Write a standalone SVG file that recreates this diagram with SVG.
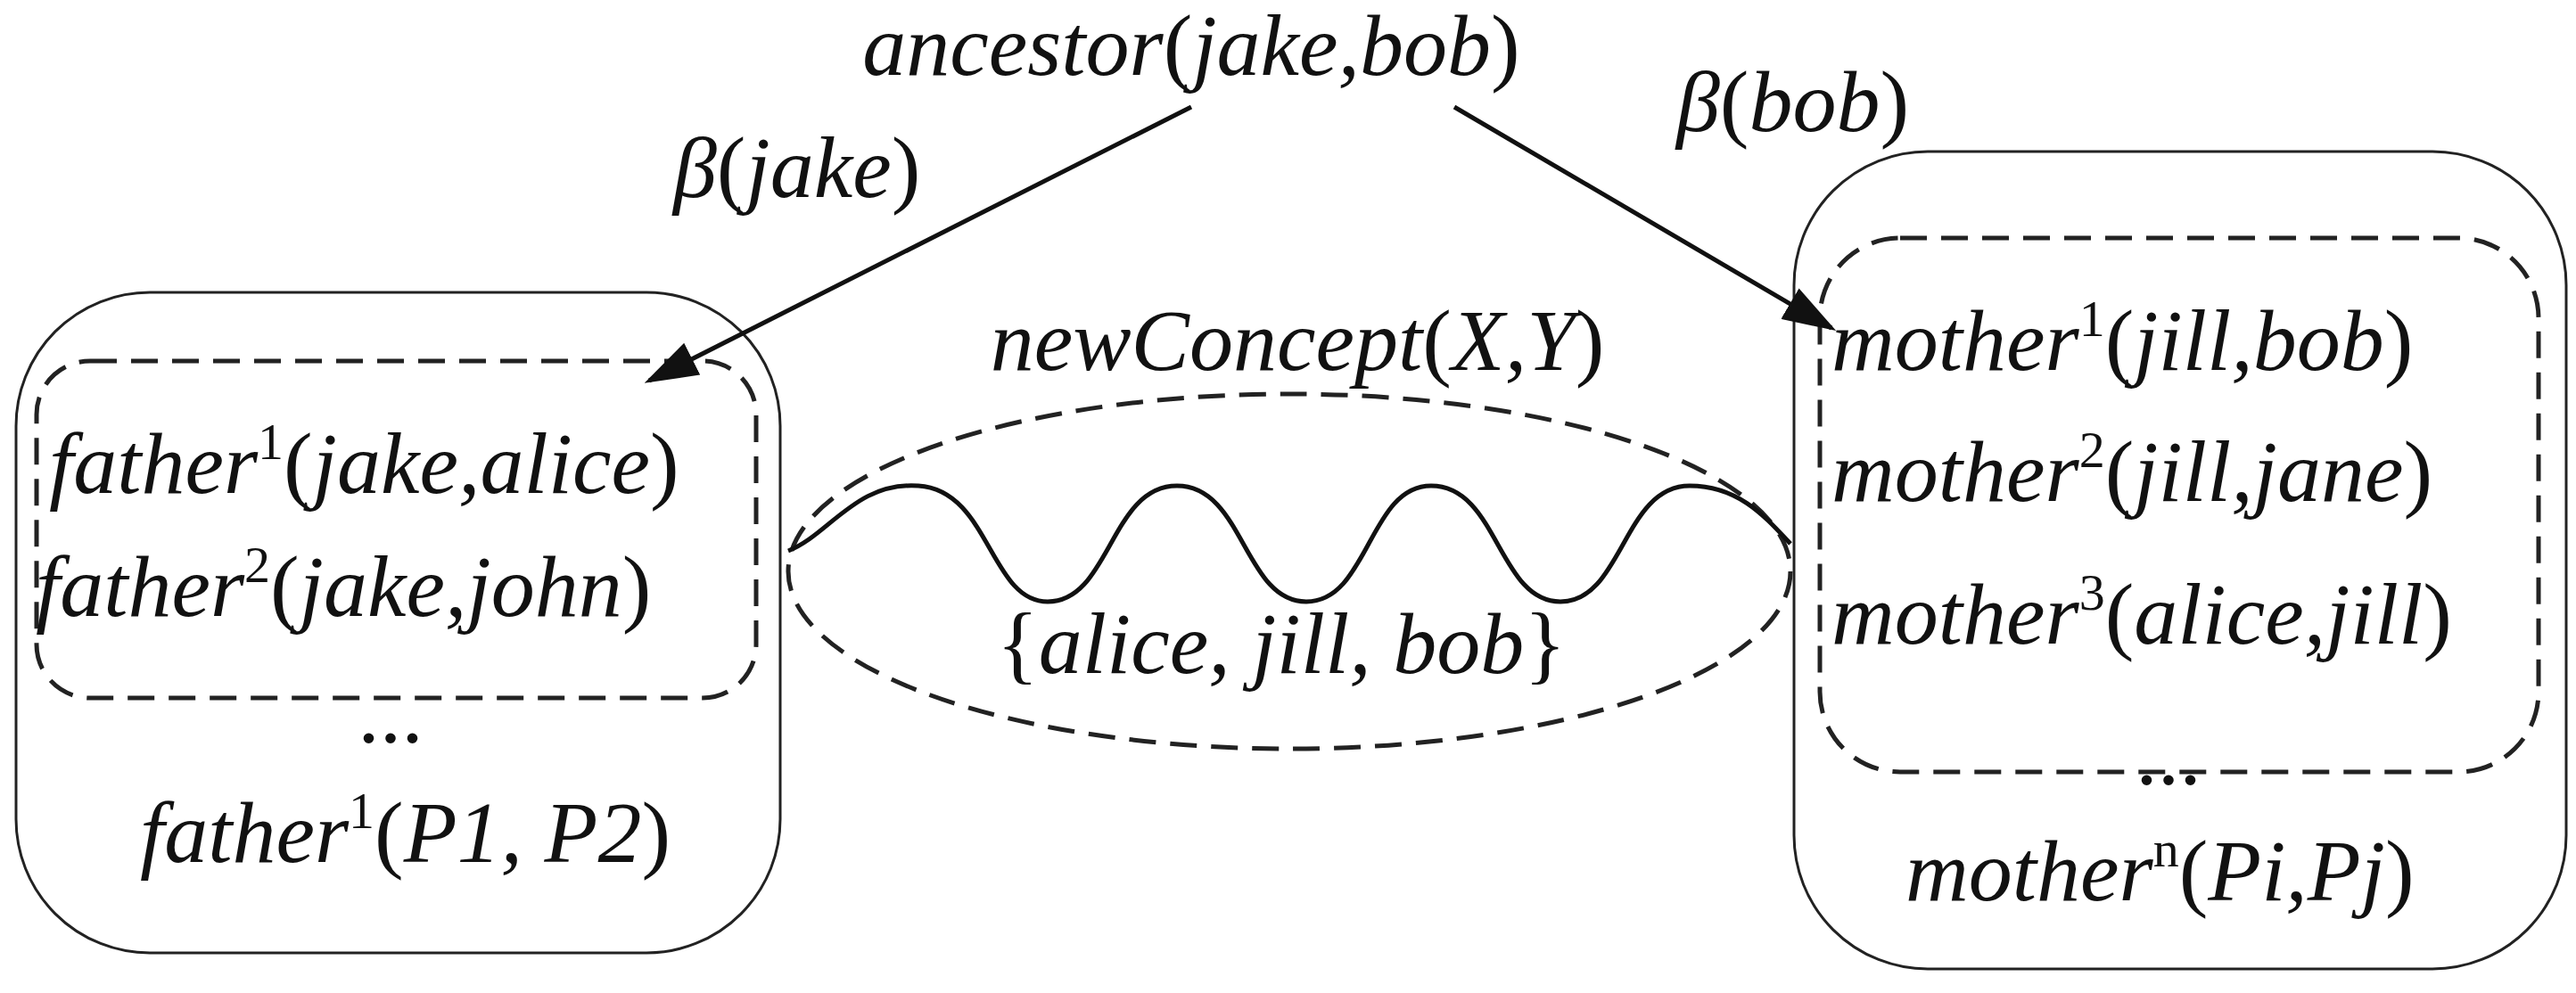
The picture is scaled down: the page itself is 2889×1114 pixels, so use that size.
<svg xmlns="http://www.w3.org/2000/svg" width="2889" height="1114" viewBox="0 0 2889 1114">
<style>
text{font-family:"Liberation Serif","Times New Roman",serif;font-size:98px;fill:#111}
.i{font-style:italic}
.s{font-size:58px;font-style:normal}
.box{fill:none;stroke:#222;stroke-width:3}
.dash{fill:none;stroke:#222;stroke-width:5;stroke-dasharray:30 16}
.con{fill:none;stroke:#111;stroke-width:5}
</style>
<defs>
<marker id="a" viewBox="0 0 10 10" refX="9" refY="5" markerWidth="60" markerHeight="40" markerUnits="userSpaceOnUse" orient="auto" preserveAspectRatio="none"><path d="M0,0 L10,5 L0,10z" fill="#111"/></marker></defs>
<g id="left">
<rect class="box" x="18" y="328" width="857" height="741" rx="150"/>
<rect class="dash" x="41" y="405" width="807" height="378" rx="60"/>
<text x="55" y="553"><tspan class="i">father</tspan><tspan class="s" dy="-38">1</tspan><tspan dy="38">(</tspan><tspan class="i">jake,alice</tspan>)</text>
<text x="40" y="691"><tspan class="i">father</tspan><tspan class="s" dy="-38">2</tspan><tspan dy="38">(</tspan><tspan class="i">jake,john</tspan>)</text>
<text x="438" y="833" text-anchor="middle">...</text>
<text x="157" y="967"><tspan class="i">father</tspan><tspan class="s" dy="-38">1</tspan><tspan dy="38">(</tspan><tspan class="i">P1, P2</tspan>)</text>
</g>
<g id="right">
<rect class="box" x="2012" y="170" width="866" height="917" rx="150"/>
<rect class="dash" x="2041" y="267" width="806" height="599" rx="90"/>
<text x="2054" y="415"><tspan class="i">mother</tspan><tspan class="s" dy="-38">1</tspan><tspan dy="38">(</tspan><tspan class="i">jill,bob</tspan>)</text>
<text x="2054" y="562"><tspan class="i">mother</tspan><tspan class="s" dy="-38">2</tspan><tspan dy="38">(</tspan><tspan class="i">jill,jane</tspan>)</text>
<text x="2054" y="722"><tspan class="i">mother</tspan><tspan class="s" dy="-38">3</tspan><tspan dy="38">(</tspan><tspan class="i">alice,jill</tspan>)</text>
<text x="2432" y="880" text-anchor="middle">...</text>
<text x="2137" y="1010"><tspan class="i">mother</tspan><tspan class="s" font-style="italic" dy="-38">n</tspan><tspan dy="38">(</tspan><tspan class="i">Pi,Pj</tspan>)</text>
</g>
<g id="concept">
<ellipse class="dash" cx="1446" cy="641" rx="562" ry="199"/>
<text class="i" x="1455" y="415" text-anchor="middle">newConcept<tspan font-style="normal">(</tspan>X,Y<tspan font-style="normal">)</tspan></text>
<text x="1437" y="755" text-anchor="middle">{<tspan class="i">alice, jill, bob</tspan>}</text>
</g>
<g id="top">
<text class="i" x="1336" y="84" text-anchor="middle">ancestor<tspan font-style="normal">(</tspan>jake,bob<tspan font-style="normal">)</tspan></text>
</g>
<g id="connectors">
<path class="con" marker-end="url(#a)" d="M1336,120 L728,427"/>
<path class="con" marker-end="url(#a)" d="M1631,120 L2054,368"/>
<path class="con" d="M884,618 C930,600 960,540 1030,545 C1110,550 1110,675 1175,675 C1245,675 1245,545 1320,545 C1395,545 1395,675 1465,675 C1535,675 1535,545 1605,545 C1680,545 1680,675 1750,675 C1820,675 1820,545 1895,545 C1950,545 1980,580 2008,610"/>
<text class="i" x="755" y="221">β<tspan font-style="normal">(</tspan>jake<tspan font-style="normal">)</tspan></text>
<text class="i" x="1880" y="147">β<tspan font-style="normal">(</tspan>bob<tspan font-style="normal">)</tspan></text>
</g>
</svg>
